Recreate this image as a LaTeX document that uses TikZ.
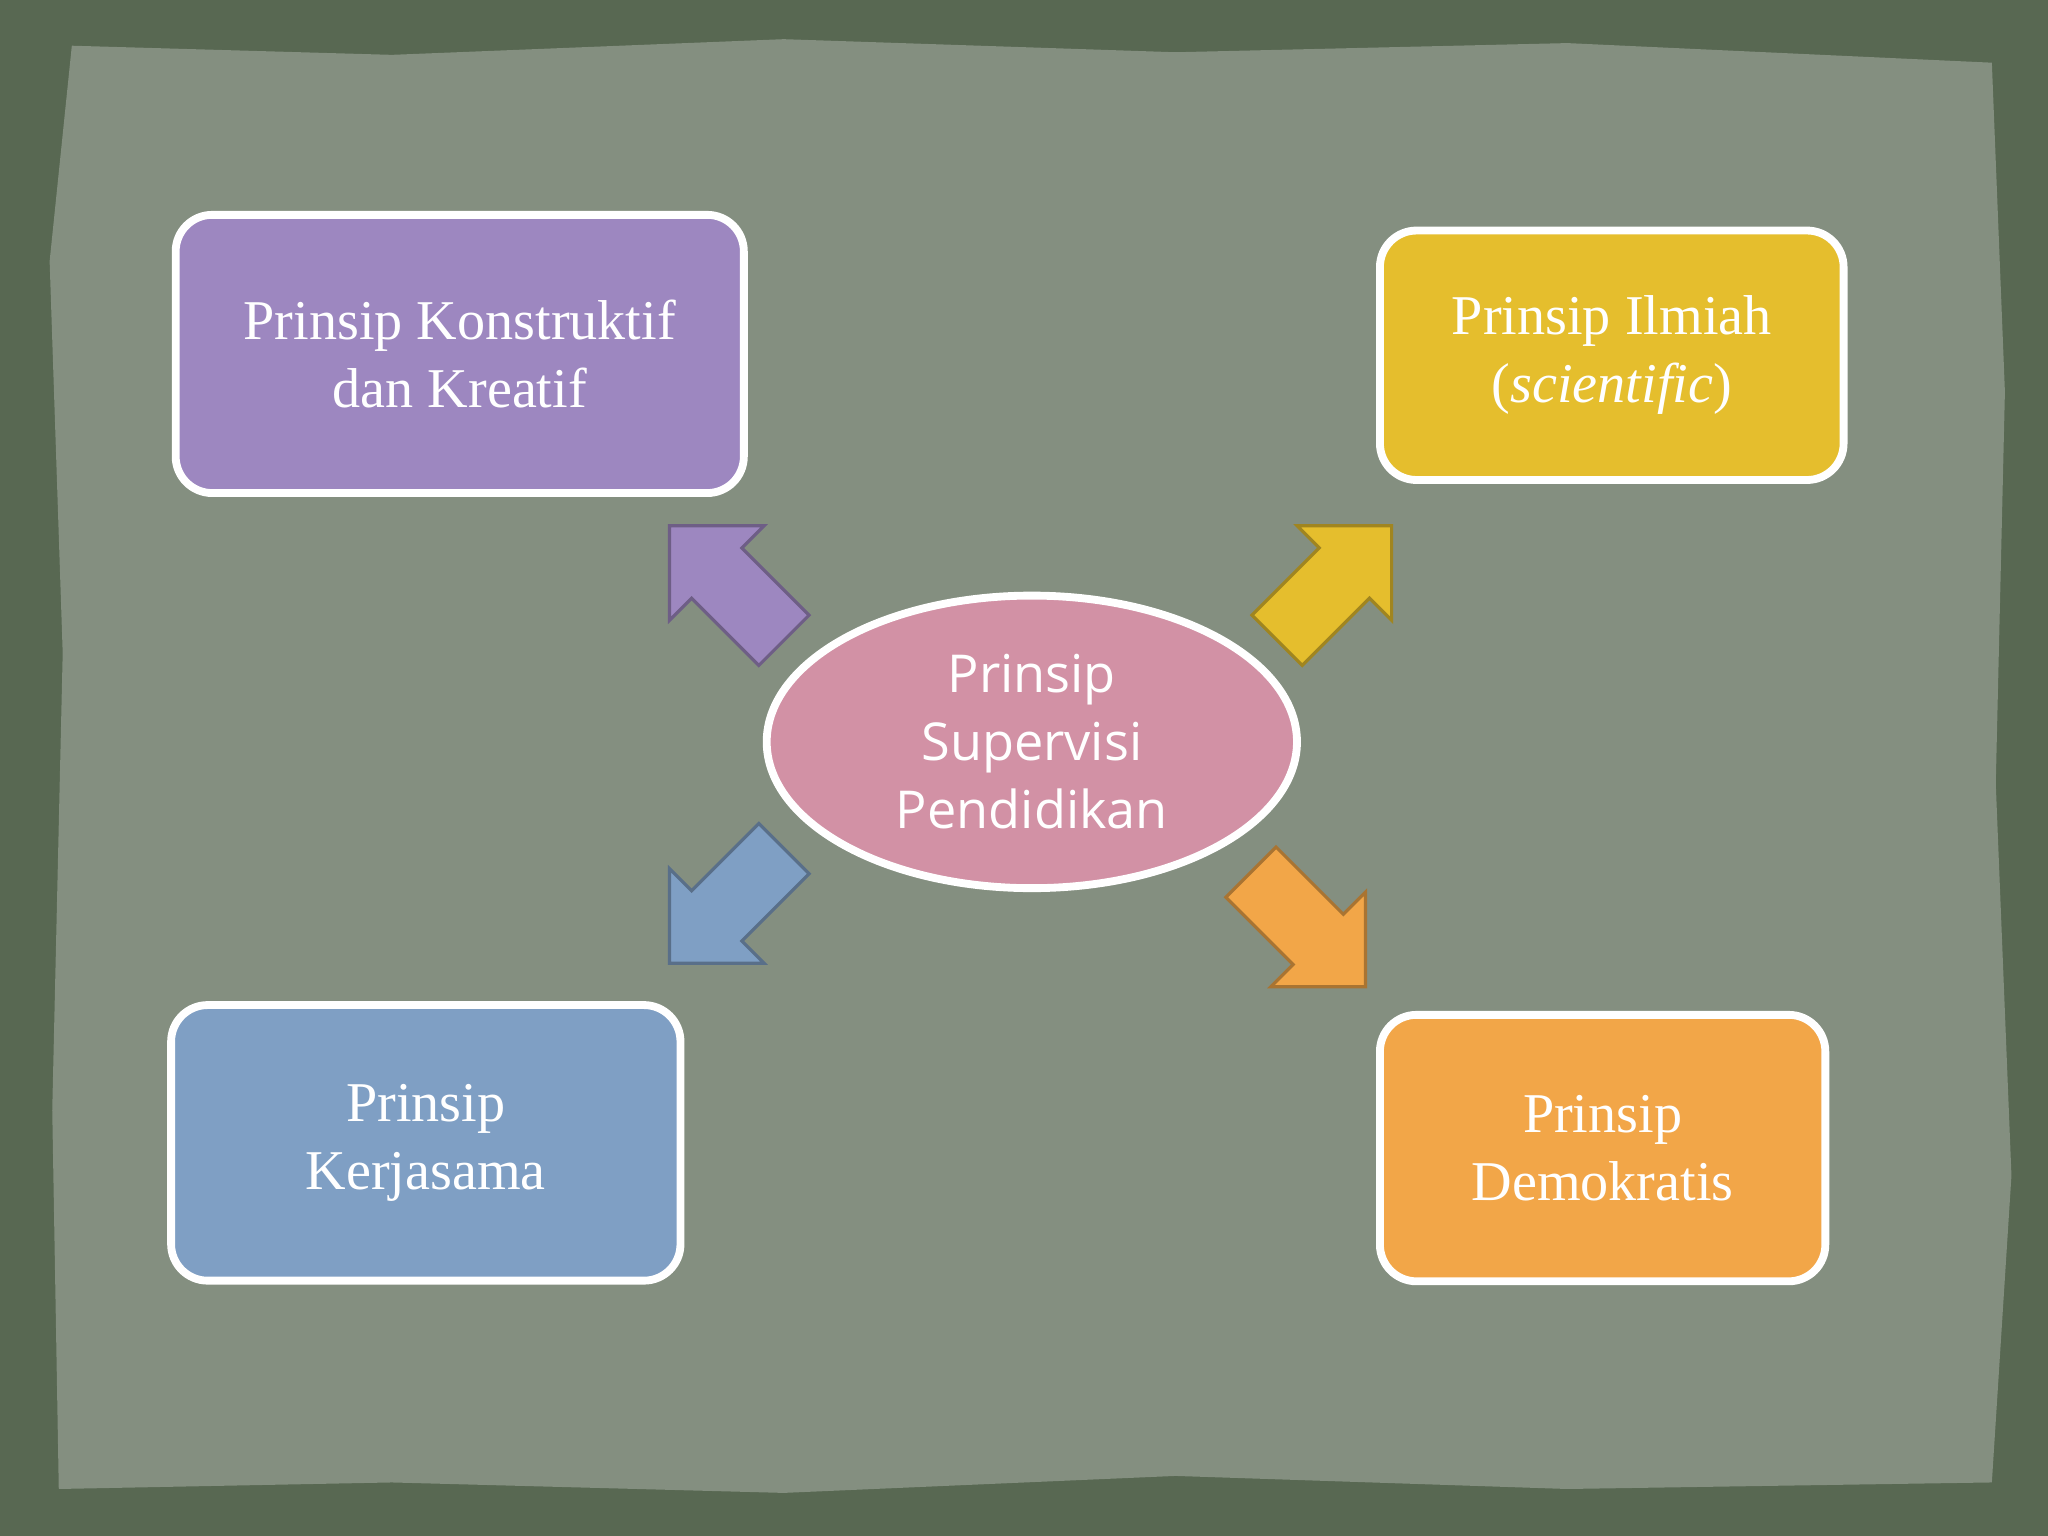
\documentclass[tikz,border=0pt]{standalone}
\usepackage{fontspec}
\setmainfont{Liberation Serif}
\newfontfamily\sansf{Open Sans}
\usetikzlibrary{shapes.geometric,shapes.arrows}
\definecolor{frame}{RGB}{88,104,82}
\definecolor{paper}{RGB}{132,143,128}
\definecolor{cpur}{RGB}{157,135,192}
\definecolor{cyel}{RGB}{229,190,45}
\definecolor{cblu}{RGB}{127,159,196}
\definecolor{cora}{RGB}{242,166,72}
\definecolor{cpin}{RGB}{210,145,165}
\tikzset{
 box/.style={draw=white,line width=3pt,rounded corners=14pt,inner sep=0pt,text=white,font=\fontsize{21.5}{26}\selectfont,align=center},
 barrow/.style={single arrow,draw=#1!70!black,fill=#1,line width=1.2pt,inner sep=13pt,single arrow head extend=12pt,minimum height=62pt}
}
\begin{document}
\begin{tikzpicture}[x=0.5pt,y=-0.5pt]
\fill[frame] (0,0) rectangle (1568,1176);
\useasboundingbox (0,0) rectangle (1568,1176);
\fill[paper] (55,35) -- (300,42) -- (600,30) -- (900,40) -- (1200,33) -- (1525,48) -- (1535,300) -- (1528,600) -- (1540,900) -- (1525,1135) -- (1200,1140) -- (900,1130) -- (600,1143) -- (300,1135) -- (45,1140) -- (40,850) -- (48,500) -- (38,200) -- cycle;
\node[box,fill=cpur,minimum width=217.5pt,minimum height=106.5pt] (a) at (352,271) {Prinsip Konstruktif\\dan Kreatif};
\node[box,fill=cyel,minimum width=177.5pt,minimum height=95.5pt] (b) at (1234,272) {Prinsip Ilmiah\\(\textit{scientific})};
\node[box,fill=cblu,minimum width=195pt,minimum height=105.5pt] (c) at (326,875) {Prinsip\\Kerjasama};
\node[box,fill=cora,minimum width=170.5pt,minimum height=102pt] (d) at (1227,879) {Prinsip\\Demokratis};
\node[ellipse,draw=white,line width=3pt,fill=cpin,minimum width=203pt,minimum height=112pt,inner sep=0pt,text=white,align=center,font=\sansf\fontsize{20}{26}\selectfont] (e) at (790,568) {Prinsip\\Supervisi\\Pendidikan};
\node[barrow=cpur,rotate=135] (pa) at (566,456) {};
\node[barrow=cyel,rotate=45] (pb) at (1012,456) {};
\node[barrow=cblu,rotate=225] (pc) at (566,684) {};
\node[barrow=cora,rotate=315] (pd) at (992,702) {};
\end{tikzpicture}
\end{document}
